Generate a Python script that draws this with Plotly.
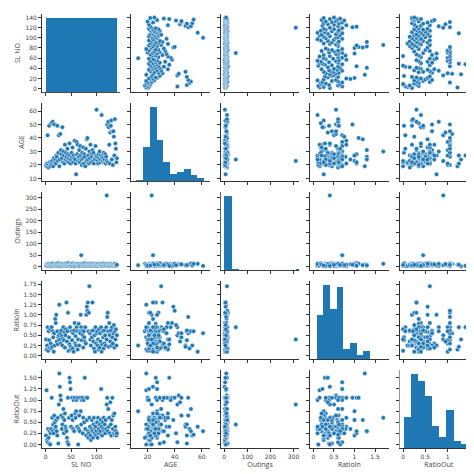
import plotly.graph_objects as go
from plotly.subplots import make_subplots

SL_NO = [1,2,3,4,5,6,7,8,9,10,11,12,13,14,15,16,17,18,19,20,
21,22,23,24,25,26,27,28,29,30,31,32,33,34,35,36,37,38,39,40,
41,42,43,44,45,46,47,48,49,50,51,52,53,54,55,56,57,58,59,60,
61,62,63,64,65,66,67,68,69,70,71,72,73,74,75,76,77,78,79,80,
81,82,83,84,85,86,87,88,89,90,91,92,93,94,95,96,97,98,99,100,
101,102,103,104,105,106,107,108,109,110,111,112,113,114,115,116,117,118,119,120,
121,122,123,124,125,126,127,128,129,130,131,132,133,134,135,136,137,138,139,140]
AGE = [20,19,21,42,20,18,49,22,19,21,51,20,23,52,19,25,50,22,24,21,
27,26,49,23,29,42,19,24,43,31,28,25,48,22,30,27,21,35,24,29,
26,23,32,28,22,25,36,27,21,24,29,26,33,22,27,25,38,24,21,13,
37,28,35,23,26,31,22,34,27,24,20,29,25,33,21,28,26,19,32,23,
39,40,24,27,21,30,25,35,22,28,26,31,23,29,21,25,24,34,27,61,
26,23,21,28,25,30,22,24,27,57,26,23,25,29,22,24,28,21,26,23,
50,22,52,48,35,21,44,49,53,24,45,20,45,41,27,54,36,32,22,25]
OUTINGS = [5,8,3,10,6,12,4,9,7,2,11,5,8,14,3,6,9,4,10,7,
12,3,8,5,15,6,9,2,11,7,4,13,6,8,3,10,5,9,12,4,
7,10,3,16,5,8,12,4,9,6,11,3,14,7,5,9,2,12,8,6,
10,4,13,7,5,9,3,11,6,50,8,12,4,10,7,15,5,9,3,11,
6,13,4,9,7,12,5,10,3,8,14,6,9,4,11,7,5,12,8,3,
10,6,13,4,9,7,11,5,8,12,3,9,6,14,4,10,7,5,11,310,
8,4,12,6,9,3,11,7,5,13,8,4,10,6,9,12,3,7,5,8]
RATIO_IN = [.40,.15,.25,.70,.12,.60,.38,.20,.65,.30,.18,.70,.22,.60,.45,.10,.55,.25,.90,.80,
1.00,.35,.60,.28,.45,.50,1.25,.40,.55,.30,.62,.48,.25,.42,.70,.38,.58,.20,.50,.65,
1.30,.35,.60,1.05,.12,.45,.28,.70,.22,.15,.60,.38,.18,.55,.10,.62,.80,.30,.48,.25,
.70,.60,.15,.40,.78,.25,.60,.55,1.00,.70,.38,.62,.50,.20,.60,.45,.35,.70,.30,1.00,
1.20,1.10,1.30,.60,1.05,1.70,.55,.40,.25,.60,.45,1.30,.62,.35,.18,.50,.10,.70,.30,.55,
.60,.25,.40,.15,.65,.20,.55,.35,.70,.10,.28,.60,.45,.18,.62,.30,.50,.25,.70,.40,
.95,1.05,.60,.22,.80,.50,.35,.62,.25,.70,.45,.30,.55,.75,.20,.60,.40,.65,.25,.50]
RATIO_OUT = [.20,1.22,.10,.05,.35,.15,.02,.30,.00,.25,.35,1.05,.60,.30,.45,.25,.65,.50,.35,.40,
.55,.30,.20,.60,.02,.90,1.60,1.30,1.10,1.00,.65,.35,.45,.60,.80,.25,.55,.70,.40,.35,
.30,.15,.05,1.05,.00,.60,1.50,1.40,1.25,.40,.65,1.05,.55,.35,1.00,.30,1.05,.70,.60,.75,
1.00,.40,1.05,.00,.35,.65,.30,1.05,.75,.45,1.00,1.05,.25,.60,1.00,.50,1.50,.35,1.05,.20,
.55,1.05,.30,.15,.25,.60,.40,.20,.10,.35,.55,.30,.15,.45,.60,.25,.35,.40,.20,.30,
.50,.15,.60,.35,.25,.45,.30,.55,1.25,.40,.20,.50,.35,.60,.30,.45,.25,.55,.35,.90,
1.05,.30,.80,.40,.60,.25,.95,.45,.20,.55,1.05,.35,.65,.25,.70,.22,.40,.30,.20,.25]

NAMES = ["SL NO", "AGE", "Outings", "RatioIn", "RatioOut"]
DATA = [SL_NO, AGE, OUTINGS, RATIO_IN, RATIO_OUT]
RANGES = [[-7,147],[8,66],[-15,325],[-0.08,1.83],[-0.08,1.68]]
XTICKS = [[0,50,100],[20,40,60],[0,100,200,300],[0,0.5,1,1.5],[0,0.5,1,1.5]]
YTICKS = [[0,20,40,60,80,100,120,140],[10,20,30,40,50,60],[0,50,100,150,200,250,300],
          [0,0.25,0.5,0.75,1,1.25,1.5,1.75],[0,0.25,0.5,0.75,1,1.25,1.5]]
YFMT = ["", "", "", ".2f", ".2f"]
BINS = [dict(start=1, end=141, size=14), dict(start=12, end=62, size=5), dict(start=0, end=310.01, size=31),
        dict(start=0.08, end=1.70, size=0.162), dict(start=0, end=1.60, size=0.16)]

BLUE = "#1f77b4"
n = 5
fig = make_subplots(rows=n, cols=n, horizontal_spacing=0.025, vertical_spacing=0.025)

def ref(prefix, k):
    return prefix if k == 1 else "%s%d" % (prefix, k)

for r in range(1, n+1):
    for c in range(1, n+1):
        if r != c:
            fig.add_trace(go.Scatter(x=DATA[c-1], y=DATA[r-1], mode="markers",
                                     marker=dict(color=BLUE, size=4.5, line=dict(color="white", width=0.5)),
                                     showlegend=False), row=r, col=c)
        else:
            fig.add_trace(go.Scatter(x=DATA[c-1], y=DATA[r-1], mode="markers", marker=dict(opacity=0),
                                     hoverinfo="skip", showlegend=False), row=r, col=c)

tf = dict(family="DejaVu Sans", size=6, color="#444")
for r in range(1, n+1):
    for c in range(1, n+1):
        fig.update_xaxes(range=RANGES[c-1], tickvals=XTICKS[c-1], showticklabels=(r == n),
                         showgrid=False, zeroline=False, showline=True, linecolor="#333", linewidth=0.8,
                         ticks="outside", ticklen=3, tickcolor="#333", tickfont=tf,
                         title=dict(text=NAMES[c-1] if r == n else "", font=dict(size=7, color="#444"), standoff=3),
                         row=r, col=c)
        fig.update_yaxes(range=RANGES[r-1], tickvals=YTICKS[r-1], showticklabels=(c == 1), tickformat=YFMT[r-1],
                         showgrid=False, zeroline=False, showline=True, linecolor="#333", linewidth=0.8,
                         ticks="outside", ticklen=3, tickcolor="#333", tickfont=tf,
                         title=dict(text=NAMES[r-1] if c == 1 else "", font=dict(size=7, color="#444"), standoff=3),
                         row=r, col=c)

extra = 26
for i in range(n):
    k = i*n + i + 1
    xd = list(fig.layout[ref("xaxis", k)].domain)
    yd = list(fig.layout[ref("yaxis", k)].domain)
    fig.add_trace(go.Histogram(x=DATA[i], xbins=BINS[i], marker=dict(color=BLUE, line=dict(width=0)),
                               xaxis="x%d" % extra, yaxis="y%d" % extra, showlegend=False))
    fig.layout["xaxis%d" % extra] = dict(domain=xd, anchor="y%d" % extra, range=RANGES[i], visible=False)
    fig.layout["yaxis%d" % extra] = dict(domain=yd, anchor="x%d" % extra, rangemode="tozero", visible=False)
    extra += 1

fig.update_layout(width=474, height=474, margin=dict(l=34, r=4, t=6, b=34),
                  plot_bgcolor="white", paper_bgcolor="white", bargap=0)
fig.write_html("out.html")
